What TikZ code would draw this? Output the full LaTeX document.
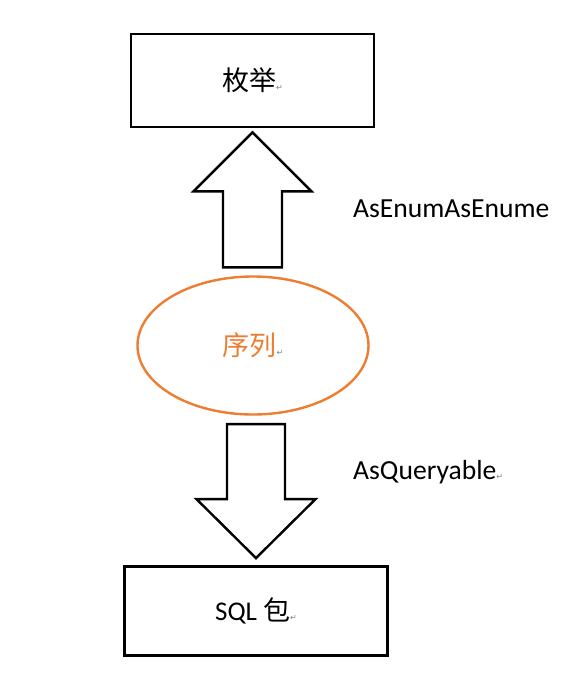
\documentclass[tikz,border=0pt]{standalone}
\usepackage{fontspec}
\setmainfont{Carlito}
\newfontfamily\cjk{Noto Sans CJK SC}
\newfontfamily\symb{DejaVu Sans}
\usepackage{tikz}
\usetikzlibrary{positioning,shapes.geometric}
\definecolor{seqorange}{RGB}{237,125,49}
\newcommand{\parmark}{{\symb\fontsize{8}{8}\selectfont\color{gray}↵}}

\begin{document}
\begin{tikzpicture}[x=1pt,y=-1pt,
        box/.style={draw, line width=2.8pt, minimum width=243pt, minimum height=93pt, font=\fontsize{27}{30}\selectfont},
        blockarrow/.style={draw, line width=2.4pt, line join=miter},
        methodtext/.style={anchor=base west, inner sep=0pt, font=\fontsize{27.6}{30}\selectfont}]
        \useasboundingbox (0,0) rectangle (570,691);
        % boxes and the ellipse
        \node[box] (enum) at (252.5,80.5) {\cjk 枚举\parmark};
        \node[draw=seqorange, ellipse, line width=2.4pt, minimum width=231pt, minimum height=138pt,
            text=seqorange, font=\fontsize{27}{30}\selectfont] (seq) at (253,345.5) {\cjk 序列\parmark};
        \node[box, minimum width=263pt, minimum height=89pt] (sql) at (256,611) {SQL \cjk 包\parmark};
        % up arrow: seq -> enum
        \coordinate (uptip) at ([yshift=-4pt]enum.south);
        \draw[blockarrow] (uptip) -- ++(59,59) -- ++(-29.5,0) -- ++(0,76) -- ++(-59,0)
            -- ++(0,-76) -- ++(-29.5,0) -- cycle;
        % down arrow: seq -> sql
        \coordinate (downtip) at ([yshift=7pt]sql.north);
        \draw[blockarrow] (downtip) -- ++(59.5,-59) -- ++(-30.5,0) -- ++(0,-75) -- ++(-58,0)
            -- ++(0,75) -- ++(-30.5,0) -- cycle;
        % method names
        \node[methodtext] (toenum) at (353,217) {AsEnumAsEnume};
        \node[methodtext] (tosql) at (353,479) {AsQueryable\parmark};
\end{tikzpicture}
\end{document}
